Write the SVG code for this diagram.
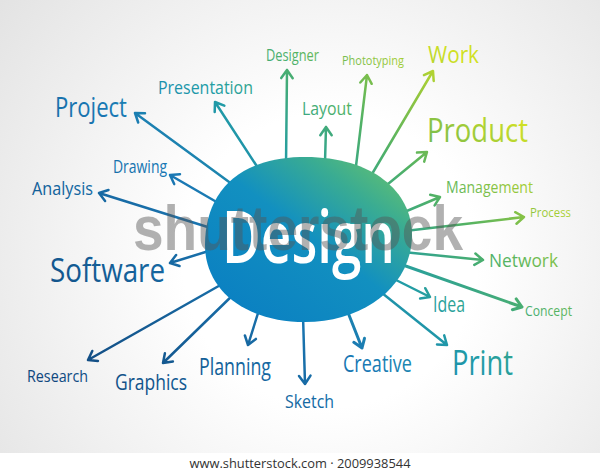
<svg xmlns="http://www.w3.org/2000/svg" width="600" height="473" viewBox="0 0 600 473">
<defs>
<radialGradient id="bg" cx="330" cy="260" r="420" gradientUnits="userSpaceOnUse">
<stop offset="0.35" stop-color="#ffffff"/>
<stop offset="1" stop-color="#e3e3e3"/>
</radialGradient>
<linearGradient id="g" gradientUnits="userSpaceOnUse" x1="100" y1="430" x2="465" y2="65">
<stop offset="0" stop-color="#12477d"/>
<stop offset="0.233" stop-color="#155e96"/>
<stop offset="0.452" stop-color="#1a78b4"/>
<stop offset="0.616" stop-color="#219ca6"/>
<stop offset="0.781" stop-color="#52b265"/>
<stop offset="0.89" stop-color="#90c540"/>
<stop offset="1" stop-color="#d0e025"/>
</linearGradient>
<linearGradient id="blob" x1="0.1" y1="0.95" x2="0.95" y2="0.05">
<stop offset="0" stop-color="#0a7fc2"/>
<stop offset="0.5" stop-color="#1290c0"/>
<stop offset="0.78" stop-color="#3aac92"/>
<stop offset="1" stop-color="#66c26e"/>
</linearGradient>
</defs>
<style>
.lbl{font-family:"Open Sans","Liberation Sans",sans-serif;font-weight:500;fill:url(#g)}
.cn{fill:none;stroke:url(#g);stroke-width:2.5;stroke-linecap:round;stroke-linejoin:round}
.center{font-family:"Open Sans","Liberation Sans",sans-serif;font-weight:600;fill:#ffffff}
.wm{font-family:"Liberation Sans",Arial,sans-serif;font-weight:bold;fill:#555555;opacity:0.45}
.foot{font-family:"Open Sans","Liberation Sans",sans-serif;fill:#333333}
</style>
<rect x="0" y="0" width="600" height="453" fill="url(#bg)"/>
<rect x="0" y="453" width="600" height="20" fill="#ffffff"/>

<g id="connectors">
<path class="cn" d="M240,190 L135,113 M138.2,122.5 L135,113 L145,113.2"/>
<path class="cn" d="M258,168 L215,102 M214.7,112 L215,102 L224.3,105.7"/>
<path class="cn" d="M286,165 L287,70 M281.2,78.1 L287,70 L292.7,78.3"/>
<path class="cn" d="M325,162 L326,127 M320.3,135.2 L326,127 L331.7,135.2"/>
<path class="cn" d="M356,166 L367,75 M360.3,82.5 L367,75 L371.7,83.8"/>
<path class="cn" d="M372,174 L433,71 M423.9,75.1 L433,71 L433.7,81"/>
<path class="cn" d="M388,184 L427,152 M417,152.6 L427,152 L424.2,161.6"/>
<path class="cn" d="M402,213 L440,197 M430.2,194.8 L440,197 L434.6,205.4"/>
<path class="cn" d="M405,231 L524,217 M515.2,212.2 L524,217 L516.5,223.7"/>
<path class="cn" d="M403,252 L483,260 M475.4,253.5 L483,260 L474.3,264.9"/>
<path class="cn" style="stroke-width:3" d="M400,264 L522,307 M516.2,298.9 L522,307 L512.4,309.7"/>
<path class="cn" d="M394,279 L430,297 M425.2,288.2 L430,297 L420.1,298.5"/>
<path class="cn" d="M382,293 L447,345 M444.2,335.4 L447,345 L437,344.4"/>
<path class="cn" style="stroke-width:3" d="M347,310 L362,348 M364.5,338.3 L362,348 L353.8,342.3"/>
<path class="cn" d="M303,315 L305,384 M310.5,375.6 L305,384 L299,376"/>
<path class="cn" d="M259,310 L248,345 M255.9,338.9 L248,345 L244.9,335.5"/>
<path class="cn" d="M236,292 L163,363 M172.9,361.4 L163,363 L164.9,353.2"/>
<path class="cn" d="M224,283 L88,360 M98,361 L88,360 L92.3,351"/>
<path class="cn" d="M212,250 L170,263 M179.5,266 L170,263 L176.1,255.1"/>
<path class="cn" d="M214,229 L99,193 M105.1,200.9 L99,193 L108.5,190"/>
<path class="cn" d="M220,204 L170,175 M174.2,184.1 L170,175 L180,174.2"/>
</g>

<g id="node-design">
<path d="M300,157 C370,155 412,190 412,235 C412,285 365,322 305,322 C245,322 205,290 205,245 C205,195 235,159 300,157 Z" fill="url(#blob)"/>
<text class="center" x="222" y="263" font-size="72" textLength="173" lengthAdjust="spacingAndGlyphs">Design</text>
</g>

<g id="node-project"><text class="lbl" x="55" y="117" font-size="27" textLength="72" lengthAdjust="spacingAndGlyphs">Project</text></g>
<g id="node-presentation"><text class="lbl" x="158" y="94" font-size="19" textLength="95" lengthAdjust="spacingAndGlyphs">Presentation</text></g>
<g id="node-designer"><text class="lbl" x="266" y="61" font-size="16" textLength="53" lengthAdjust="spacingAndGlyphs">Designer</text></g>
<g id="node-phototyping"><text class="lbl" x="342" y="65" font-size="13" textLength="62" lengthAdjust="spacingAndGlyphs">Phototyping</text></g>
<g id="node-work"><text class="lbl" x="428" y="63" font-size="24" textLength="51" lengthAdjust="spacingAndGlyphs">Work</text></g>
<g id="node-layout"><text class="lbl" x="302" y="115" font-size="18" textLength="50" lengthAdjust="spacingAndGlyphs">Layout</text></g>
<g id="node-product"><text class="lbl" x="427" y="142" font-size="32" textLength="101" lengthAdjust="spacingAndGlyphs">Product</text></g>
<g id="node-management"><text class="lbl" x="446" y="193" font-size="17" textLength="87" lengthAdjust="spacingAndGlyphs">Management</text></g>
<g id="node-process"><text class="lbl" x="530" y="217" font-size="13" textLength="41" lengthAdjust="spacingAndGlyphs">Process</text></g>
<g id="node-network"><text class="lbl" x="489" y="267" font-size="19" textLength="69" lengthAdjust="spacingAndGlyphs">Network</text></g>
<g id="node-concept"><text class="lbl" x="525" y="316" font-size="15" textLength="47" lengthAdjust="spacingAndGlyphs">Concept</text></g>
<g id="node-idea"><text class="lbl" x="433" y="312" font-size="21" textLength="32" lengthAdjust="spacingAndGlyphs">Idea</text></g>
<g id="node-print"><text class="lbl" x="452" y="375" font-size="34" textLength="61" lengthAdjust="spacingAndGlyphs">Print</text></g>
<g id="node-creative"><text class="lbl" x="343" y="372" font-size="24" textLength="69" lengthAdjust="spacingAndGlyphs">Creative</text></g>
<g id="node-sketch"><text class="lbl" x="285" y="408" font-size="18" textLength="49" lengthAdjust="spacingAndGlyphs">Sketch</text></g>
<g id="node-planning"><text class="lbl" x="199" y="375" font-size="24" textLength="72" lengthAdjust="spacingAndGlyphs">Planning</text></g>
<g id="node-graphics"><text class="lbl" x="115" y="390" font-size="22" textLength="72" lengthAdjust="spacingAndGlyphs">Graphics</text></g>
<g id="node-research"><text class="lbl" x="27" y="382" font-size="16" textLength="61" lengthAdjust="spacingAndGlyphs">Research</text></g>
<g id="node-software"><text class="lbl" x="50" y="282" font-size="32" textLength="115" lengthAdjust="spacingAndGlyphs">Software</text></g>
<g id="node-analysis"><text class="lbl" x="32" y="195" font-size="19" textLength="61" lengthAdjust="spacingAndGlyphs">Analysis</text></g>
<g id="node-drawing"><text class="lbl" x="113" y="173" font-size="18" textLength="54" lengthAdjust="spacingAndGlyphs">Drawing</text></g>

<g id="watermark"><text class="wm" transform="translate(133 250) scale(1 1.13)" x="0" y="0" font-size="55" textLength="330" lengthAdjust="spacingAndGlyphs">shutterstock</text></g>
<g id="footer"><text class="foot" x="300" y="468" font-size="13" text-anchor="middle" textLength="221" lengthAdjust="spacingAndGlyphs">www.shutterstock.com · 2009938544</text></g>
</svg>
